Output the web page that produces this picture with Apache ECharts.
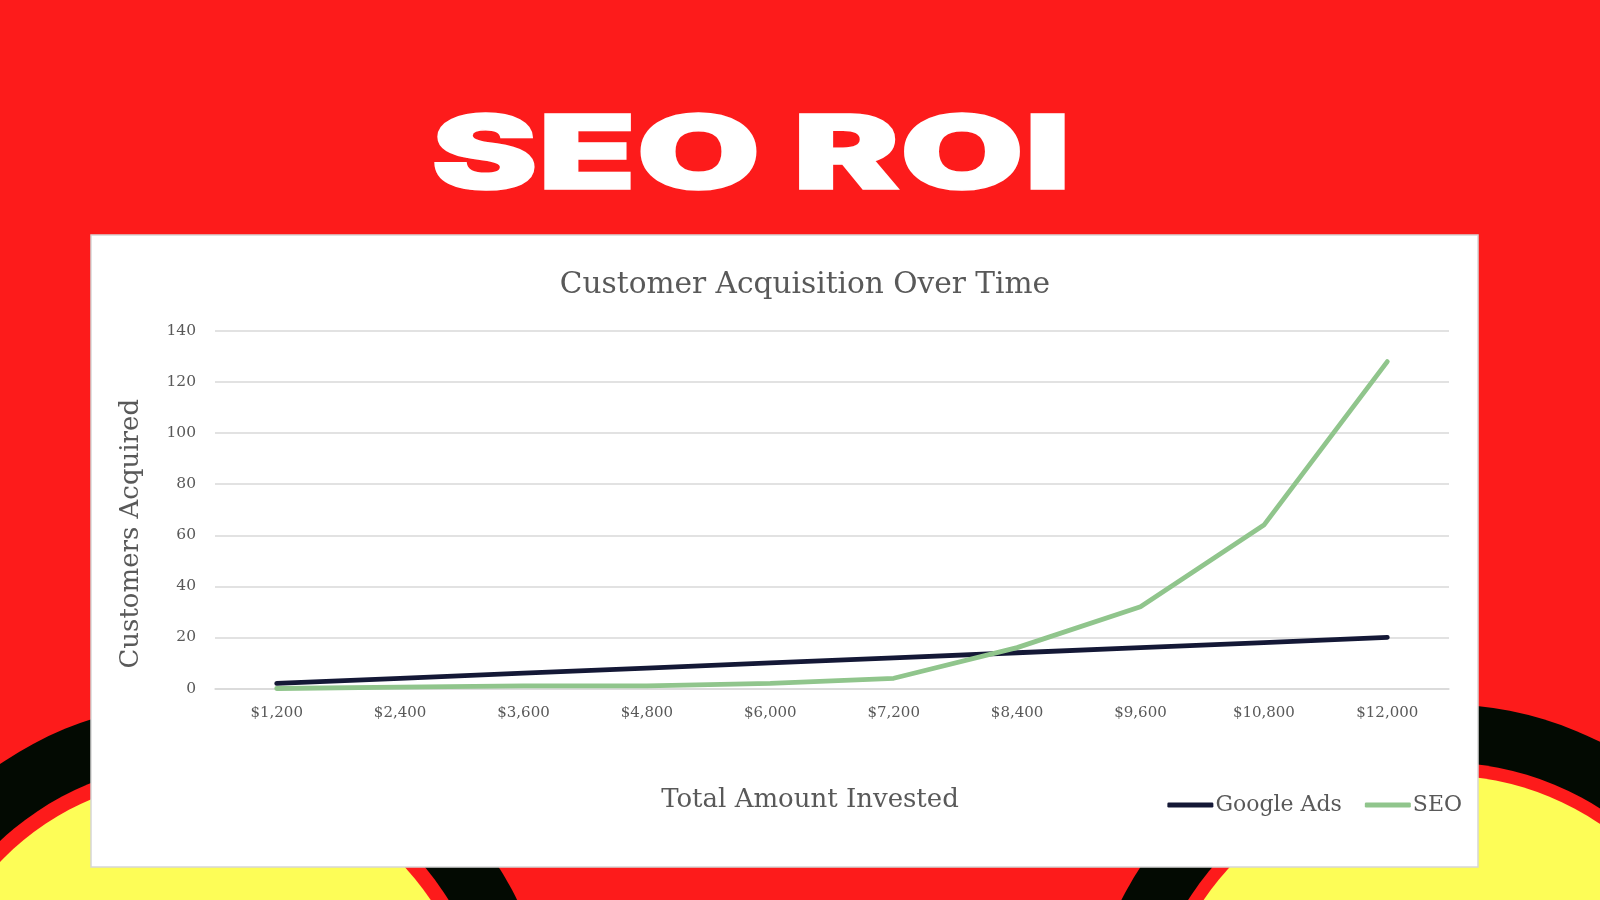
<!DOCTYPE html>
<html>
<head>
<meta charset="utf-8">
<script src="https://cdn.jsdelivr.net/npm/echarts@6/dist/echarts.min.js"></script>
<style>
html,body{margin:0;padding:0;background:#fd1b1b;}
#chart{width:1600px;height:900px;}
</style>
</head>
<body>
<div id="chart"></div>
<script>
const categories = ['$1,200','$2,400','$3,600','$4,800','$6,000','$7,200','$8,400','$9,600','$10,800','$12,000'];
const googleAds = [2,4,6,8,10,12,14,16,18,20];
const seo = [0,0.5,1,1,2,4,16,32,64,128];
const seriesNames = ['Google Ads','SEO'];
const pageTitle = 'SEO ROI';
const chartTitle = 'Customer Acquisition Over Time';
const xName = 'Total Amount Invested';
const yName = 'Customers Acquired';

const serif = "'DejaVu Serif', 'Liberation Serif', serif";
const textGray = '#595959';

// measure headline for horizontal stretching
const headFont = "900 103px Inter";
const cv = document.createElement('canvas').getContext('2d');
cv.font = headFont;
const headW = cv.measureText(pageTitle).width || 420;
const headScale = 640 / headW;

const chart = echarts.init(document.getElementById('chart'));
chart.setOption({
  backgroundColor: '#fd1b1b',
  animation: false,
  title: {
    text: chartTitle,
    left: 800, textAlign: 'center', top: 265, z: 10,
    textStyle: {fontFamily: serif, fontSize: 29.6, fontWeight: 'normal', color: textGray}
  },
  legend: {
    data: seriesNames,
    right: 133, top: 789, z: 10,
    icon: 'roundRect', itemWidth: 46, itemHeight: 5, itemGap: 23,
    textStyle: {fontFamily: serif, fontSize: 22, color: textGray, padding: [0, 0, 0, -3]}
  },
  grid: {left: 215, right: 151, top: 331, bottom: 211.5},
  xAxis: {
    type: 'category', data: categories, boundaryGap: true, z: 5,
    name: xName, nameLocation: 'middle', nameGap: 99,
    nameTextStyle: {fontFamily: serif, fontSize: 26, color: textGray, padding: [0, 44, 0, 0]},
    axisLine: {lineStyle: {color: '#d9d9d9', width: 1.5}},
    axisTick: {show: false},
    axisLabel: {fontFamily: serif, fontSize: 15, color: textGray, margin: 17}
  },
  yAxis: {
    type: 'value', min: 0, max: 140, interval: 20, z: 5,
    name: yName, nameLocation: 'middle', nameGap: 71, nameRotate: 90,
    nameTextStyle: {fontFamily: serif, fontSize: 26, color: textGray, padding: [0, 48, 0, 0]},
    axisLine: {show: false}, axisTick: {show: false},
    axisLabel: {fontFamily: serif, fontSize: 15.5, color: textGray, margin: 19},
    splitLine: {lineStyle: {color: '#d9d9d9', width: 1.5}}
  },
  series: [
    {name: seriesNames[0], type: 'line', data: googleAds, showSymbol: false, z: 10,
     itemStyle: {color: '#141836'}, lineStyle: {color: '#141836', width: 4.8, cap: 'round'}},
    {name: seriesNames[1], type: 'line', data: seo, showSymbol: false, z: 11,
     itemStyle: {color: '#90c58c'}, lineStyle: {color: '#90c58c', width: 4.8, cap: 'round'}}
  ],
  graphic: [
    {type: 'circle', z: -10, shape: {cx: 200, cy: 1055, r: 353}, style: {fill: '#030a02'}},
    {type: 'circle', z: -9, shape: {cx: 200, cy: 1055, r: 293}, style: {fill: '#fd1b1b'}},
    {type: 'circle', z: -8, shape: {cx: 200, cy: 1055, r: 278}, style: {fill: '#fdfd57'}},
    {type: 'circle', z: -10, shape: {cx: 1440, cy: 1061, r: 357}, style: {fill: '#030a02'}},
    {type: 'circle', z: -9, shape: {cx: 1440, cy: 1061, r: 299}, style: {fill: '#fd1b1b'}},
    {type: 'circle', z: -8, shape: {cx: 1440, cy: 1061, r: 286}, style: {fill: '#fdfd57'}},
    {type: 'rect', z: -5, shape: {x: 91, y: 235, width: 1387, height: 632},
     style: {fill: '#ffffff', stroke: '#d6d6d6', lineWidth: 1.5}},
    {type: 'text', z: 10, x: 751, y: 158, scaleX: headScale,
     style: {text: pageTitle, font: headFont, fill: '#ffffff', stroke: '#ffffff', lineWidth: 1.5,
             textAlign: 'center', textVerticalAlign: 'middle', align: 'center', verticalAlign: 'middle'}}
  ]
});
</script>
</body>
</html>
